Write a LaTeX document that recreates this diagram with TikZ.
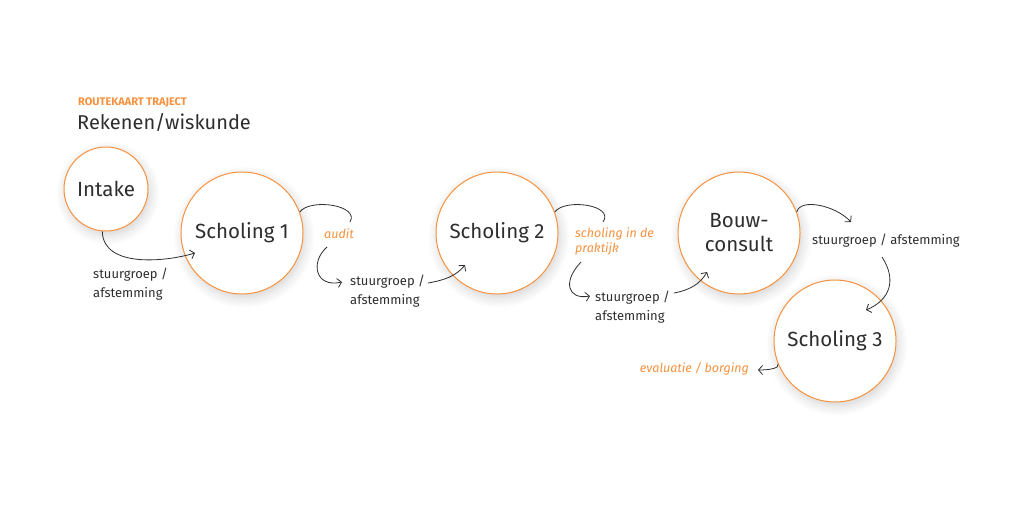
\documentclass[tikz,border=0pt]{standalone}
\usepackage{fontspec}
\setmainfont{Fira Sans}
\usetikzlibrary{arrows.meta,shadows.blur}
\definecolor{org}{HTML}{F7913D}
\definecolor{ink}{HTML}{2E2E2E}
\begin{document}
\begin{tikzpicture}[x=1pt,y=-1pt,
  stop/.style={circle,draw=org,line width=1pt,fill=white,text=ink,align=center,font=\fontsize{20.5}{22}\selectfont,inner sep=0pt,
    blur shadow={shadow xshift=2pt,shadow yshift=-4pt,shadow blur steps=12,shadow opacity=18,shadow blur radius=10pt}},
  lbl/.style={text=ink,font=\fontsize{13}{18.5}\selectfont,align=left,inner sep=0pt},
  olbl/.style={text=org,font=\itshape\fontsize{12.5}{15}\selectfont,align=left,inner sep=0pt},
  arr/.style={draw=ink,line width=0.8pt,-{Straight Barb[length=4pt,width=9pt]}},
  ln/.style={draw=ink,line width=0.8pt}]
\path[use as bounding box] (0,0) rectangle (1024,512);
\node[text=org,font=\bfseries\fontsize{11}{12}\selectfont,anchor=west,inner sep=0pt] (h) at (78,103) {ROUTEKAART TRAJECT};
\node[text=ink,font=\fontsize{20}{22}\selectfont,anchor=west,inner sep=0pt] (t) at (77,122) {Rekenen/wiskunde};
\node[stop,minimum size=84pt] (i) at (106,189) {Intake};
\node[stop,minimum size=122pt] (s1) at (242,233) {Scholing 1};
\node[stop,minimum size=122pt] (s2) at (497,233) {Scholing 2};
\node[stop,minimum size=122pt,font=\fontsize{20.5}{24}\selectfont] (b) at (739,233) {Bouw-\\consult};
\node[stop,minimum size=122pt] (s3) at (835,341) {Scholing 3};

\node[lbl,anchor=north west] (l1) at (93,268) {stuurgroep /\\afstemming};
\node[olbl,anchor=west] (a) at (324,234) {audit};
\node[lbl,anchor=north west] (l2) at (350,275) {stuurgroep /\\afstemming};
\node[olbl,anchor=north west] (p) at (575,228) {scholing in de\\praktijk};
\node[lbl,anchor=north west] (l3) at (595,291) {stuurgroep /\\afstemming};
\node[lbl,anchor=west] (l4) at (812,241) {stuurgroep / afstemming};
\node[olbl,anchor=east] (e) at (749,369) {evaluatie / borging};

\coordinate (c1) at (195,253);
\coordinate (c2) at (350,222);
\coordinate (c3) at (327,247);
\coordinate (c4) at (342,282);
\coordinate (c5) at (428,283);
\coordinate (c6) at (465,265);
\coordinate (c7) at (603,222);
\coordinate (c8) at (581,262);
\coordinate (c9) at (590,296);
\coordinate (c10) at (674,293);
\coordinate (c11) at (707,272);
\coordinate (c12) at (851,222);
\coordinate (c13) at (882,257);
\coordinate (c14) at (866,310);
\coordinate (c15) at (758,370);

\draw[arr] (i.-95) .. controls (103,268) and (165,262) .. (c1);
\draw[ln] (s1.20) .. controls (310,198) and (360,205) .. (c2);
\draw[arr] (c3) .. controls (310,262) and (315,288) .. (c4);
\draw[arr] (c5) .. controls (445,280) and (456,276) .. (c6);
\draw[ln] (s2.20) .. controls (565,198) and (615,205) .. (c7);
\draw[arr] (c8) .. controls (562,282) and (568,300) .. (c9);
\draw[arr] (c10) .. controls (690,290) and (700,284) .. (c11);
\draw[arr] (b.20) .. controls (800,198) and (835,205) .. (c12);
\draw[arr] (c13) .. controls (897,280) and (890,300) .. (c14);
\draw[arr] (s3.-158) .. controls (780,368) and (770,370) .. (c15);
\end{tikzpicture}
\end{document}
